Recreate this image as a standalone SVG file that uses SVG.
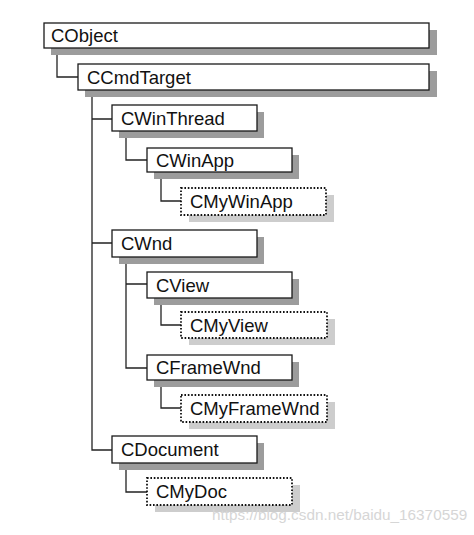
<svg xmlns="http://www.w3.org/2000/svg" width="474" height="535" viewBox="0 0 474 535">
<style>
.sh{fill:#9c9c9c}
.shl{fill:#cdcdcd}
.bx{fill:#fff;stroke:#1a1a1a;stroke-width:1.3}
.dt{fill:#fff;stroke:#111;stroke-width:1.8;stroke-dasharray:1.6 1.8}
.t{font-family:"Liberation Sans",Arial,sans-serif;font-size:18.5px;fill:#111}
.c{fill:none;stroke:#222;stroke-width:1.3}
.wm{font-family:"Liberation Sans",Arial,sans-serif;font-size:15.3px;fill:#d6d6d6}
</style>
<rect width="474" height="535" fill="#fff"/>
<g id="connectors">
<path class="c" d="M57 48V77H78"/>
<path class="c" d="M92 90V450H112M92 119H112M92 243H112"/>
<path class="c" d="M126 131V160H147"/>
<path class="c" d="M161 172V201H181"/>
<path class="c" d="M126 257V368H147M126 284H147"/>
<path class="c" d="M161 298V325H181"/>
<path class="c" d="M161 380V408H181"/>
<path class="c" d="M126 463V492H147"/>
</g>
<g id="CObject"><rect class="sh" x="51" y="30" width="386" height="25"/><rect class="bx" x="44" y="23" width="385" height="25"/><text class="t" x="51" y="42">CObject</text></g>
<g id="CCmdTarget"><rect class="sh" x="85" y="71" width="352" height="26"/><rect class="bx" x="78" y="64" width="351" height="26"/><text class="t" x="87" y="83.5">CCmdTarget</text></g>
<g id="CWinThread"><rect class="sh" x="119" y="112" width="145" height="26"/><rect class="bx" x="112" y="105" width="145" height="26"/><text class="t" x="121" y="124.5">CWinThread</text></g>
<g id="CWinApp"><rect class="sh" x="154" y="155" width="145" height="24"/><rect class="bx" x="147" y="148" width="145" height="24"/><text class="t" x="156" y="166.5">CWinApp</text></g>
<g id="CMyWinApp"><rect class="shl" x="189" y="195" width="145" height="27"/><rect class="dt" x="181" y="188" width="145" height="27"/><text class="t" x="190" y="208">CMyWinApp</text></g>
<g id="CWnd"><rect class="sh" x="119" y="237" width="145" height="27"/><rect class="bx" x="112" y="230" width="145" height="27"/><text class="t" x="121" y="250">CWnd</text></g>
<g id="CView"><rect class="sh" x="154" y="279" width="145" height="26"/><rect class="bx" x="147" y="272" width="145" height="26"/><text class="t" x="156" y="291.5">CView</text></g>
<g id="CMyView"><rect class="shl" x="189" y="319" width="146" height="26"/><rect class="dt" x="181" y="312" width="146" height="26"/><text class="t" x="190" y="331.5">CMyView</text></g>
<g id="CFrameWnd"><rect class="sh" x="154" y="362" width="145" height="25"/><rect class="bx" x="147" y="355" width="145" height="25"/><text class="t" x="156" y="374">CFrameWnd</text></g>
<g id="CMyFrameWnd"><rect class="shl" x="189" y="402" width="146" height="27"/><rect class="dt" x="181" y="395" width="146" height="27"/><text class="t" x="190" y="415">CMyFrameWnd</text></g>
<g id="CDocument"><rect class="sh" x="119" y="443" width="145" height="27"/><rect class="bx" x="112" y="436" width="145" height="27"/><text class="t" x="121" y="456">CDocument</text></g>
<g id="CMyDoc"><rect class="shl" x="155" y="485" width="145" height="27"/><rect class="dt" x="147" y="478" width="145" height="27"/><text class="t" x="156" y="498">CMyDoc</text></g>
<text class="wm" x="212" y="520">https://blog.csdn.net/baidu_16370559</text>
</svg>
